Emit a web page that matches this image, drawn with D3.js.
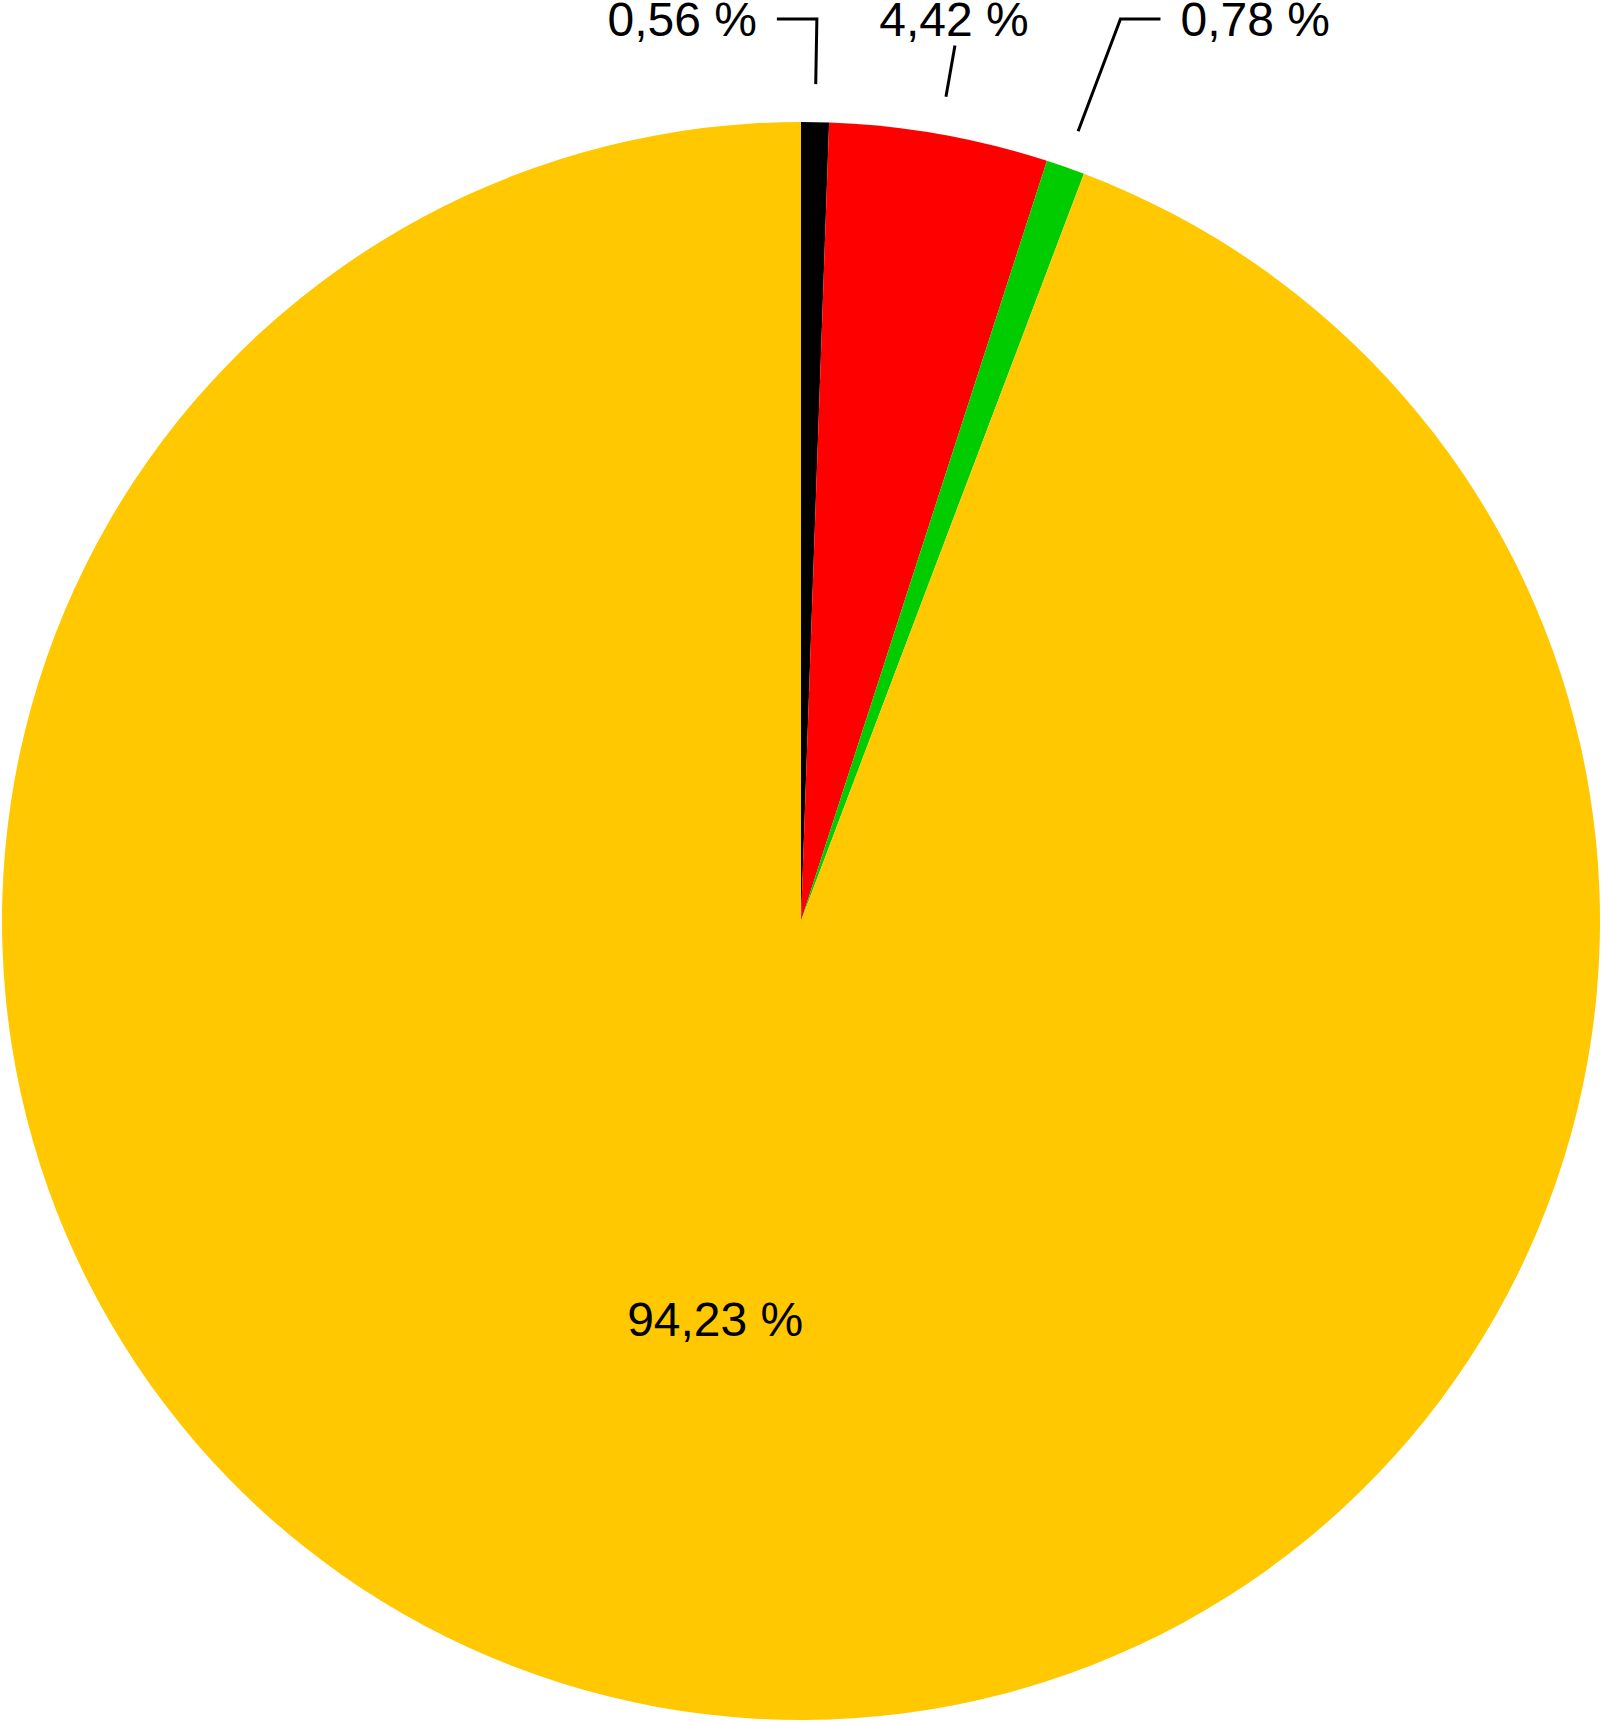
<!DOCTYPE html>
<html>
<head>
<meta charset="utf-8">
<script src="https://cdn.jsdelivr.net/npm/d3@7"></script>
<style>
  html, body { margin: 0; padding: 0; background: #ffffff; }
  svg { display: block; }
</style>
</head>
<body>
<svg id="chart" width="1601" height="1722"></svg>
<script>
// ---- data ----
const categories = ["A", "B", "C", "D"];
const values = [0.56, 4.42, 0.78, 94.23];
const valueLabels = ["0,56 %", "4,42 %", "0,78 %", "94,23 %"];
const colors = ["#000000", "#ff0000", "#00cc00", "#ffc800"];
const labelModes = ["elbowLeft", "straight", "elbowRight", "inside"];

// ---- layout ----
const W = 1601, H = 1722;
const cx = 801, cy = 921, R = 799;
const elbowY = 19;
const fontSize = 48;
const fontFamily = "'Liberation Sans', Arial, sans-serif";

const svg = d3.select("#chart");
const g = svg.append("g").attr("transform", `translate(${cx},${cy})`);

const pie = d3.pie().sort(null).value(d => d.value).startAngle(0).endAngle(2 * Math.PI);
const data = categories.map((c, i) => ({ cat: c, value: values[i], label: valueLabels[i], color: colors[i], mode: labelModes[i] }));
const arcs = pie(data);
const arc = d3.arc().innerRadius(0).outerRadius(R);

g.selectAll("path.slice")
  .data(arcs)
  .join("path")
  .attr("class", "slice")
  .attr("d", arc)
  .attr("fill", d => d.data.color);

function pt(a, rr) { return [rr * Math.sin(a), -rr * Math.cos(a)]; }

const lbl = svg.append("g").attr("transform", `translate(${cx},${cy})`);
const textY = 36 - cy;

function addText(x, y, anchor, s) {
  lbl.append("text")
    .attr("x", x).attr("y", y)
    .attr("text-anchor", anchor)
    .attr("font-family", fontFamily)
    .attr("font-size", fontSize)
    .attr("fill", "#000")
    .text(s);
}

arcs.forEach(d => {
  const mid = (d.startAngle + d.endAngle) / 2;
  const mode = d.data.mode;
  if (mode === "inside") {
    const p = pt(mid, 410);
    addText(p[0] - 12, p[1] + 12, "middle", d.data.label);
    return;
  }
  const start = pt(mid, R + 38);
  if (mode === "straight") {
    const end = pt(mid, R + 90);
    lbl.append("path")
      .attr("d", d3.line()([start, end]))
      .attr("stroke", "#000").attr("stroke-width", 3).attr("fill", "none");
    addText(end[0] - 1, textY, "middle", d.data.label);
    return;
  }
  const rr = (cy - elbowY) / Math.cos(mid);
  const elbow = pt(mid, rr);
  const dir = mode === "elbowLeft" ? -1 : 1;
  const ex = elbow[0] + (dir > 0 ? 3 : 0);
  const end = [ex + dir * 40, elbow[1]];
  lbl.append("path")
    .attr("d", d3.line()([start, [ex, elbow[1]], end]))
    .attr("stroke", "#000").attr("stroke-width", 3).attr("fill", "none");
  addText(end[0] + dir * 20, textY, dir < 0 ? "end" : "start", d.data.label);
});
</script>
</body>
</html>
